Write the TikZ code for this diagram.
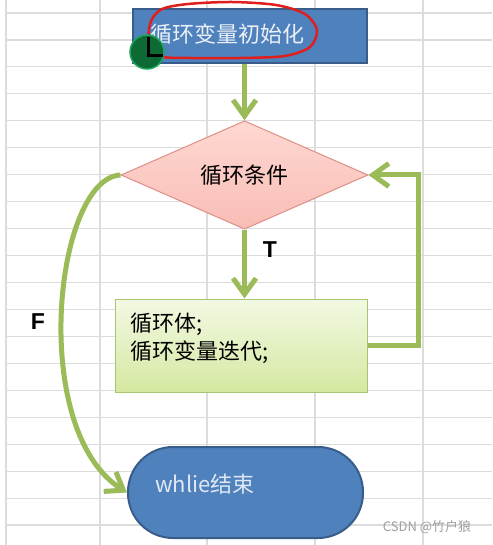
\documentclass[tikz,border=0pt]{standalone}
\usepackage{fontspec}
\setmainfont{Liberation Sans}
\newfontfamily\cjk{Noto Sans CJK SC}
\usetikzlibrary{arrows.meta,shapes.geometric}
\definecolor{boxblue}{HTML}{4F81BD}
\definecolor{boxedge}{HTML}{385D8A}
\definecolor{flowgreen}{HTML}{9BBB59}
\definecolor{gridgray}{HTML}{DCDCDC}
\definecolor{pinktop}{HTML}{FFD8D2}
\definecolor{pinkbot}{HTML}{F8BDB5}
\definecolor{pinkedge}{HTML}{DE8F86}
\definecolor{limetop}{HTML}{F2F9E3}
\definecolor{limebot}{HTML}{D5E8A1}
\definecolor{limeedge}{HTML}{A8C46E}
\definecolor{inkred}{HTML}{E01E1E}
\definecolor{cursorgreen}{HTML}{0D6A34}
\definecolor{cursorrim}{HTML}{1BA65A}
\tikzset {>={Straight Barb[length=16pt,width=23pt]}}
\tikzset{
  gridline/.style={gridgray,line width=1.2pt},
  flow/.style={->,flowgreen,line width=5pt},
  blockbox/.style={draw=boxedge,line width=2pt,fill=boxblue,text=white!88!boxblue,
    font=\cjk\fontsize{22}{28}\selectfont,align=left,inner ysep=0pt},
  decision/.style={diamond,draw=pinkedge,line width=1pt,top color=pinktop,bottom color=pinkbot,
    inner sep=0pt,font=\cjk\fontsize{22}{28}\selectfont},
  bodybox/.style={draw=limeedge,line width=1pt,top color=limetop,bottom color=limebot,
    font=\cjk\fontsize{22}{28}\selectfont,align=left,inner ysep=0pt},
  tag/.style={font=\bfseries\fontsize{23}{26}\selectfont}
}
\begin{document}
\begin{tikzpicture}[x=1pt,y=-1pt]
\useasboundingbox (0,0) rectangle (492,545);
\fill[white] (0,0) rectangle (492,545);
\foreach \gx in {6,100,207,315,423} \draw[gridline] (\gx,0) -- (\gx,545);
\foreach \k in {0,...,19} \draw[gridline] (6,{13+26.95*\k}) -- (492,{13+26.95*\k});

\node[blockbox,minimum height=54pt,text width=200pt,inner xsep=17pt] (init) at (250,36) {循环变量初始化\\[-22pt]\mbox{}};
\node[decision,minimum width=247pt,minimum height=98pt] (cond) at (244.5,175) {循环条件};
\node[bodybox,minimum height=93pt,text width=222pt,inner xsep=15pt] (body) at (241,345.5) {循环体;\\循环变量迭代;\\[-10pt]\mbox{}};
\node[blockbox,rounded corners=45pt,minimum height=91pt,text width=181pt,inner xsep=27pt,text=white!82!boxblue] (stop) at (245.5,492.5) {whlie结束\\[-10pt]\mbox{}};

\node[tag] (tlab) at (270,250) {T};
\node[tag] (flab) at (38,322) {F};
\node[text=gray!75,font=\cjk\fontsize{13}{15}\selectfont] (mark) at (427,527) {CSDN @竹户狼};

\draw[flow] (init.south -| cond.north) -- (cond.north);
\draw[flow] (cond.south) -- (cond.south |- body.north);
\draw[flow] (body.east) -- ++(51,0) |- (cond.east);
\draw[flow] (cond.west) .. controls (55,178) and (28,430) .. (stop.west);

\draw[inkred,line width=2.5pt] plot[smooth cycle] coordinates {(149,40) (151,21) (162,9) (188,4) (232,2) (276,5) (305,14) (317,30) (310,47) (285,56) (240,58) (190,58) (160,56)};
\filldraw[fill=cursorgreen,draw=cursorrim,line width=1.5pt] (147,52) circle[radius=17pt];
\draw[black,line width=3pt] (148,37) -- (148,56) -- (163,56);
\end{tikzpicture}
\end{document}
